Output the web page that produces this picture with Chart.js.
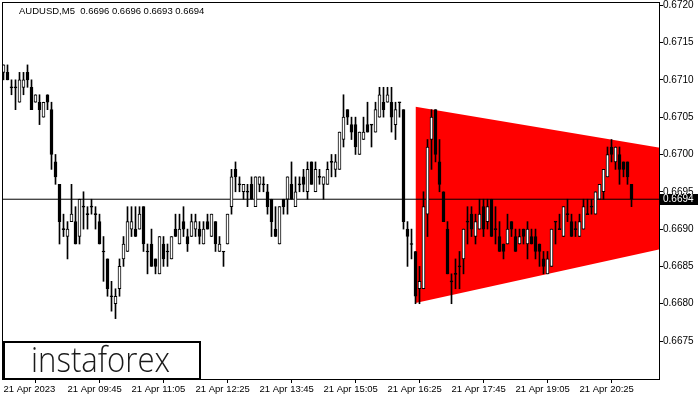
<!DOCTYPE html>
<html>
<head>
<meta charset="utf-8">
<script src="https://cdn.jsdelivr.net/npm/chart.js@4/dist/chart.umd.min.js"></script>
<style>
  html, body { margin: 0; padding: 0; background: #fff; }
  #wrap { width: 700px; height: 400px; }
</style>
</head>
<body>
<div id="wrap"><canvas id="chart" width="700" height="400"></canvas></div>
<script>
// AUDUSD M5 candles, 21 Apr 2023 08:25 .. 21:30
const symbol = 'AUDUSD,M5';
const open = [
  0.6711,0.6711,0.6709,0.6709,0.6707,0.6709,0.6711,0.6709,0.6707,0.6707,
  0.6705,0.6708,0.6706,0.6699,0.6696,0.6690,0.6689,0.6691,0.6691,0.6689,
  0.6693,0.6692,0.6693,0.6692,0.6691,0.6687,0.6686,0.6681,0.6680,0.6682,
  0.6686,0.6687,0.6690,0.6690,0.6690,0.6693,0.6687,0.6688,0.6686,0.6684,
  0.6688,0.6687,0.6686,0.6690,0.6688,0.6691,0.6689,0.6689,0.6690,0.6690,
  0.6688,0.6691,0.6689,0.6691,0.6687,0.6687,0.6688,0.6693,0.6698,0.6696,
  0.6695,0.6695,0.6696,0.6693,0.6696,0.6696,0.6695,0.6694,0.6690,0.6688,
  0.6694,0.6694,0.6696,0.6693,0.6696,0.6697,0.6695,0.6699,0.6695,0.6697,
  0.6696,0.6696,0.6699,0.6698,0.6698,0.6702,0.6706,0.6704,0.6704,0.6700,
  0.6702,0.6704,0.6704,0.6703,0.6705,0.6707,0.6707,0.6707,0.6704,0.6707,
  0.6706,0.6690,0.6688,0.6687,0.6682,0.6682,0.6692,0.6702,0.6706,0.6699,
  0.6695,0.6690,0.6683,0.6684,0.6685,0.6686,0.6691,0.6692,0.6689,0.6690,
  0.6693,0.6691,0.6694,0.6690,0.6689,0.6688,0.6688,0.6691,0.6689,0.6688,
  0.6690,0.6688,0.6689,0.6689,0.6688,0.6686,0.6684,0.6685,0.6691,0.6690,
  0.6689,0.6692,0.6691,0.6690,0.6689,0.6690,0.6692,0.6693,0.6692,0.6694,
  0.6695,0.6697,0.6701,0.6699,0.6700,0.6699,0.6699,0.6696
];
const high = [
  0.6712,0.6712,0.6710,0.6710,0.6711,0.6711,0.6712,0.6710,0.6708,0.6708,
  0.6707,0.6708,0.6707,0.6700,0.6696,0.6692,0.6691,0.6696,0.6693,0.6694,
  0.6695,0.6693,0.6694,0.6693,0.6692,0.6689,0.6686,0.6683,0.6682,0.6686,
  0.6689,0.6693,0.6693,0.6693,0.6693,0.6693,0.6688,0.6690,0.6686,0.6689,
  0.6689,0.6688,0.6689,0.6692,0.6692,0.6693,0.6690,0.6692,0.6692,0.6691,
  0.6691,0.6692,0.6692,0.6691,0.6689,0.6687,0.6692,0.6698,0.6699,0.6697,
  0.6696,0.6696,0.6697,0.6697,0.6697,0.6697,0.6696,0.6694,0.6693,0.6693,
  0.6694,0.6697,0.6699,0.6697,0.6697,0.6698,0.6699,0.6699,0.6699,0.6698,
  0.6697,0.6699,0.6700,0.6700,0.6703,0.6708,0.6706,0.6705,0.6705,0.6703,
  0.6705,0.6707,0.6704,0.6707,0.6709,0.6709,0.6709,0.6709,0.6707,0.6707,
  0.6706,0.6691,0.6690,0.6687,0.6685,0.6695,0.6702,0.6706,0.6706,0.6702,
  0.6695,0.6691,0.6684,0.6686,0.6687,0.6690,0.6693,0.6693,0.6692,0.6694,
  0.6694,0.6694,0.6694,0.6693,0.6691,0.6688,0.6692,0.6691,0.6690,0.6690,
  0.6690,0.6691,0.6690,0.6690,0.6688,0.6687,0.6687,0.6690,0.6691,0.6692,
  0.6693,0.6694,0.6692,0.6691,0.6692,0.6694,0.6694,0.6694,0.6695,0.6696,
  0.6698,0.6701,0.6702,0.6701,0.6701,0.6699,0.6699,0.6696
];
const low = [
  0.6710,0.6710,0.6708,0.6706,0.6707,0.6708,0.6709,0.6706,0.6707,0.6704,
  0.6705,0.6706,0.6698,0.6696,0.6688,0.6689,0.6686,0.6691,0.6688,0.6688,
  0.6690,0.6690,0.6692,0.6690,0.6688,0.6683,0.6681,0.6679,0.6678,0.6681,
  0.6685,0.6687,0.6689,0.6689,0.6690,0.6687,0.6684,0.6685,0.6684,0.6684,
  0.6685,0.6685,0.6686,0.6689,0.6688,0.6689,0.6687,0.6689,0.6689,0.6688,
  0.6688,0.6690,0.6689,0.6687,0.6687,0.6685,0.6688,0.6692,0.6695,0.6695,
  0.6694,0.6693,0.6694,0.6693,0.6695,0.6695,0.6692,0.6689,0.6689,0.6688,
  0.6692,0.6692,0.6694,0.6693,0.6695,0.6695,0.6694,0.6696,0.6695,0.6696,
  0.6694,0.6696,0.6697,0.6697,0.6698,0.6701,0.6704,0.6702,0.6700,0.6700,
  0.6702,0.6703,0.6701,0.6703,0.6705,0.6705,0.6707,0.6703,0.6702,0.6705,
  0.6690,0.6685,0.6686,0.6680,0.6680,0.6682,0.6689,0.6698,0.6699,0.6695,
  0.6691,0.6684,0.6680,0.6682,0.6682,0.6684,0.6688,0.6689,0.6688,0.6690,
  0.6689,0.6690,0.6689,0.6688,0.6687,0.6686,0.6688,0.6689,0.6687,0.6688,
  0.6688,0.6686,0.6688,0.6686,0.6685,0.6684,0.6684,0.6685,0.6688,0.6690,
  0.6689,0.6691,0.6689,0.6689,0.6689,0.6690,0.6692,0.6692,0.6692,0.6694,
  0.6694,0.6697,0.6699,0.6698,0.6696,0.6697,0.6696,0.6693
];
const close = [
  0.6712,0.6710,0.6709,0.6709,0.6710,0.6710,0.6710,0.6706,0.6708,0.6706,
  0.6707,0.6707,0.6700,0.6697,0.6691,0.6690,0.6690,0.6692,0.6688,0.6694,
  0.6693,0.6692,0.6693,0.6692,0.6688,0.6687,0.6682,0.6681,0.6681,0.6685,
  0.6688,0.6691,0.6691,0.6689,0.6692,0.6688,0.6687,0.6685,0.6685,0.6689,
  0.6686,0.6687,0.6689,0.6689,0.6690,0.6690,0.6688,0.6691,0.6691,0.6689,
  0.6690,0.6690,0.6692,0.6688,0.6688,0.6687,0.6692,0.6697,0.6697,0.6696,
  0.6696,0.6695,0.6694,0.6697,0.6697,0.6696,0.6693,0.6691,0.6689,0.6693,
  0.6693,0.6697,0.6694,0.6695,0.6696,0.6696,0.6698,0.6696,0.6698,0.6697,
  0.6697,0.6698,0.6699,0.6699,0.6703,0.6705,0.6705,0.6703,0.6701,0.6703,
  0.6703,0.6703,0.6704,0.6706,0.6708,0.6706,0.6708,0.6705,0.6706,0.6707,
  0.6691,0.6689,0.6688,0.6681,0.6683,0.6693,0.6701,0.6705,0.6700,0.6696,
  0.6691,0.6684,0.6683,0.6684,0.6685,0.6690,0.6691,0.6690,0.6691,0.6692,
  0.6690,0.6693,0.6689,0.6690,0.6687,0.6687,0.6690,0.6690,0.6687,0.6689,
  0.6689,0.6690,0.6688,0.6687,0.6687,0.6685,0.6686,0.6690,0.6691,0.6690,
  0.6693,0.6692,0.6689,0.6690,0.6691,0.6693,0.6692,0.6693,0.6695,0.6696,
  0.6698,0.6700,0.6700,0.6701,0.6698,0.6698,0.6697,0.6694
];
const lastPrice = 0.6694;

// axis ticks (x = bar index)
const xTickPos = [0, 16, 32, 48, 64, 80, 96, 112, 128, 144];
const xTickLabels = ['21 Apr 2023', '21 Apr 09:45', '21 Apr 11:05', '21 Apr 12:25', '21 Apr 13:45',
                     '21 Apr 15:05', '21 Apr 16:25', '21 Apr 17:45', '21 Apr 19:05', '21 Apr 20:25'];
const yTicks = [0.6675, 0.6680, 0.6685, 0.6690, 0.6695, 0.6700, 0.6705, 0.6710, 0.6715, 0.6720];

// symmetrical triangle (bar index / price)
const triX = [103, 164.125];
const triTop = [0.67064, 0.67009];
const triBottom = [0.66801, 0.66873];

const X_MIN = -0.375, X_MAX = 164.125;
const Y_MIN = 0.666991, Y_MAX = 0.672043;
const DOJI = 0.0000067;

const bodyData = open.map((o, i) => ({ x: i, y: o === close[i] ? [o - DOJI, o + DOJI] : [o, close[i]] }));
const bodyColors = open.map((o, i) => close[i] > o ? '#ffffff' : '#000000');
const wickData = low.map((l, i) => ({ x: i, y: [l, high[i]] }));

const font = 'Liberation Sans';

const overlay = {
  id: 'overlay',
  afterDraw(chart) {
    const ctx = chart.ctx;
    const a = chart.chartArea;
    ctx.save();
    // frame
    ctx.strokeStyle = '#000';
    ctx.lineWidth = 1;
    ctx.strokeRect(a.left + 0.5, a.top + 0.5, a.right - a.left - 1, a.bottom - a.top);
    // header
    ctx.fillStyle = '#000';
    ctx.font = '9.5px "' + font + '"';
    ctx.textBaseline = 'middle';
    ctx.textAlign = 'left';
    ctx.fillText(symbol + '  ' + [open[157], high[157], low[157], close[157]].map(v => v.toFixed(4)).join(' '), 19, 11);
    // last price tag
    const y = chart.scales.y.getPixelForValue(lastPrice);
    ctx.fillStyle = '#000';
    ctx.fillRect(a.right, Math.round(y) - 5, 38, 11);
    ctx.fillStyle = '#fff';
    ctx.font = '10px "' + font + '"';
    ctx.fillText(lastPrice.toFixed(4), a.right + 3, Math.round(y) + 0.5);
    // logo
    ctx.fillStyle = '#fff';
    ctx.fillRect(3, 341, 198, 38);
    ctx.lineWidth = 2;
    ctx.strokeStyle = '#000';
    ctx.strokeRect(4, 342, 196, 37);
    ctx.fillStyle = '#1a1a1a';
    ctx.font = '300 34px "Open Sans"';
    ctx.textBaseline = 'alphabetic';
    ctx.fillText('instaforex', 31, 372, 139);
    ctx.restore();
  }
};

new Chart(document.getElementById('chart'), {
  type: 'bar',
  data: {
    datasets: [
      {
        label: 'body', data: bodyData, backgroundColor: bodyColors, borderColor: '#000',
        borderWidth: 1, borderSkipped: false, barThickness: 3, grouped: false, order: 0
      },
      {
        label: 'wick', data: wickData, backgroundColor: '#000', borderWidth: 0,
        barThickness: 1, grouped: false, order: 1
      },
      {
        type: 'line', label: 'bid', data: [{ x: X_MIN, y: lastPrice }, { x: X_MAX, y: lastPrice }],
        borderColor: '#000', borderWidth: 1, pointRadius: 0, order: 2
      },
      {
        type: 'line', label: 'triTop', data: [{ x: triX[0], y: triTop[0] }, { x: triX[1], y: triTop[1] }],
        borderWidth: 0, pointRadius: 0, fill: '+1', backgroundColor: '#ff0000', order: 3
      },
      {
        type: 'line', label: 'triBottom', data: [{ x: triX[0], y: triBottom[0] }, { x: triX[1], y: triBottom[1] }],
        borderWidth: 0, pointRadius: 0, fill: false, order: 3
      }
    ]
  },
  options: {
    responsive: false,
    animation: false,
    devicePixelRatio: 1,
    layout: { padding: { left: 2, top: 2, right: 0, bottom: 0 } },
    plugins: { legend: { display: false }, tooltip: { enabled: false } },
    scales: {
      x: {
        type: 'linear', min: X_MIN, max: X_MAX, offset: false,
        grid: { display: true, drawOnChartArea: false, drawTicks: true, tickLength: 4, color: '#000' },
        border: { display: false },
        ticks: {
          autoSkip: false, maxRotation: 0, align: 'start', padding: 1, color: '#000',
          font: { family: font, size: 9.5 },
          callback: (v, i) => xTickLabels[i]
        },
        afterBuildTicks: s => { s.ticks = xTickPos.map(v => ({ value: v })); },
        afterFit: s => { s.height = 21; s.paddingLeft = 0; s.paddingRight = 0; }
      },
      y: {
        type: 'linear', position: 'right', min: Y_MIN, max: Y_MAX,
        grid: { display: true, drawOnChartArea: false, drawTicks: true, tickLength: 3, color: '#000' },
        border: { display: false },
        ticks: {
          padding: 0, color: '#000', font: { family: font, size: 10 },
          callback: v => v.toFixed(4)
        },
        afterBuildTicks: s => { s.ticks = yTicks.map(v => ({ value: v })); },
        afterFit: s => { s.width = 40; s.paddingTop = 0; s.paddingBottom = 0; }
      }
    }
  },
  plugins: [overlay]
});
</script>
</body>
</html>
